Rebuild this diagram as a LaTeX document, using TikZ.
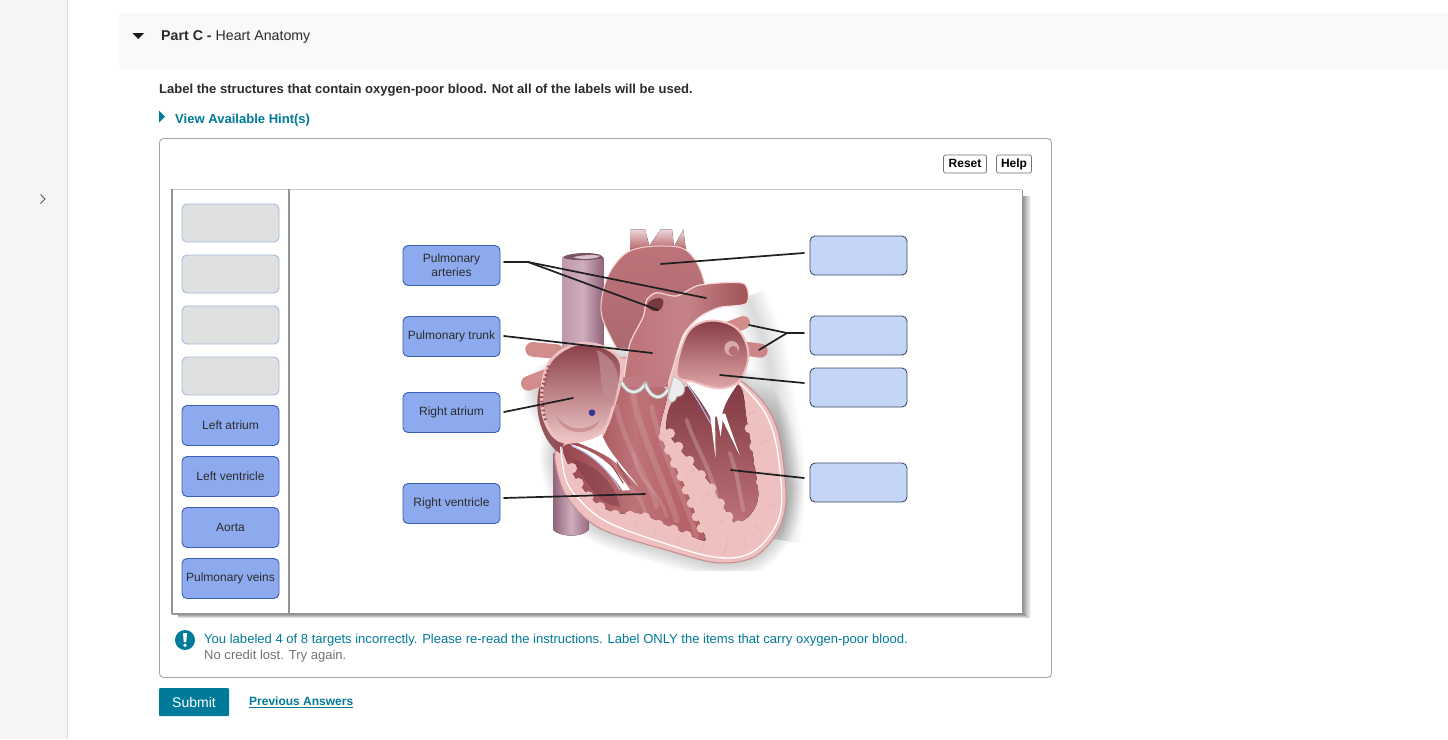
\documentclass[tikz,border=0pt]{standalone}
\usepackage{fontspec}
\setmainfont{Liberation Sans}
\definecolor{teal}{HTML}{007A9A}
\definecolor{txt}{HTML}{2B2B2B}
\definecolor{lab}{HTML}{8EAAEE}
\definecolor{labb}{HTML}{3A5FB5}
\definecolor{tgt}{HTML}{C5D5F5}
\definecolor{tgtb}{HTML}{3F4C6E}
\definecolor{wall}{HTML}{EEC0BF}
\definecolor{flesh}{HTML}{B25A60}
\definecolor{deep}{HTML}{96434C}
\definecolor{mauve}{HTML}{AC7690}
\definecolor{vein}{HTML}{D28C8C}
\definecolor{palette}{HTML}{DFE1E1}
\tikzset{
  x=1pt,y=-1pt,
  txtnode/.style={inner sep=0pt,anchor=west,text=txt,font=\fontsize{#1}{#1}\selectfont},
  lablbox/.style={draw=labb,fill=lab,rounded corners=5pt,line width=.9pt,minimum width=97pt,minimum height=40pt,inner sep=0pt,align=center,text=txt,font=\fontsize{12}{14}\selectfont},
  emptybox/.style={draw=labb!45!white,fill=palette,rounded corners=5pt,line width=.9pt,minimum width=97pt,minimum height=38pt,inner sep=0pt},
  tgtbox/.style={draw=tgtb,fill=tgt,rounded corners=5pt,line width=.9pt,minimum width=97pt,minimum height=39pt,inner sep=0pt},
  btn/.style={draw=black!55,fill=white,rounded corners=2pt,line width=.7pt,inner sep=0pt,text=black,text height=8.8pt,text depth=2.4pt,font=\bfseries\fontsize{12}{12}\selectfont},
  conn/.style={draw=black!88,line width=1.7pt,line cap=round,line join=round},
  heartout/.style={insert path={plot[smooth cycle,tension=.55] coordinates {(420,500)(470,640)(465,720)(500,830)(600,925)(800,990)(950,1028)(1060,1012)(1130,940)(1158,840)(1140,660)(1100,560)(1020,480)(900,420)(600,420)}}},
}
\begin{document}
\begin{tikzpicture}
\useasboundingbox (0,0) rectangle (1448,739);
\fill[white] (0,0) rectangle (1448,739);
% page chrome
\fill[black!4] (0,0) rectangle (67,739);
\draw[black!14,line width=1pt] (67.5,0) -- (67.5,739);
\draw[black!65,line width=1pt] (40.5,194.5) -- (45,199) -- (40.5,203.5);
\fill[black!2.5] (119,13) rectangle (1448,69);
\fill[black!90] (132.5,33) -- (144,33) -- (138.2,39) -- cycle;
\node[txtnode=14.2] (title) at (161,37.5) {\textbf{Part C -} Heart Anatomy};
\node[txtnode=13.05] (instr) at (159,90) {\textbf{Label the structures that contain oxygen-poor blood. Not all of the labels will be used.}};
\fill[teal] (159,110.5) -- (165,116.5) -- (159,122.5) -- cycle;
\node[txtnode=13.05,text=teal] (hint) at (175,120) {\textbf{View Available Hint(s)}};
% panel
\draw[black!35,rounded corners=4pt,line width=.9pt] (159.5,138.5) rectangle (1051.5,677.5);
\node[btn,minimum width=43pt,minimum height=18pt] (reset) at (965,164) {Reset};
\node[btn,minimum width=35pt,minimum height=18pt] (help) at (1014,164) {Help};
% canvas shadows
\fill[left color=black!45,right color=white] (1022,196) rectangle (1031,617);
\fill[top color=black!45,bottom color=white] (178,614) rectangle (1026,618);
\draw[black!22,line width=1pt] (172,189.5) -- (1022,189.5);
\draw[black!42,line width=1.2pt] (172,189) -- (172,614);
\draw[black!42,line width=1.5pt] (172,614) -- (1022.5,614) -- (1022.5,190);
\draw[black!42,line width=1.5pt] (289,189) -- (289,614);
% palette
\node[emptybox] (p1) at (230.5,223) {};
\node[emptybox] (p2) at (230.5,274) {};
\node[emptybox] (p3) at (230.5,325) {};
\node[emptybox] (p4) at (230.5,376) {};
\node[lablbox] (p5) at (230.5,425.5) {Left atrium};
\node[lablbox] (p6) at (230.5,476.5) {Left ventricle};
\node[lablbox] (p7) at (230.5,527.5) {Aorta};
\node[lablbox] (p8) at (230.5,578.5) {Pulmonary veins};
% heart picture
\begin{scope}[shift={(400,220)},x=.33333pt,y=-.33333pt]
 \begin{scope}
  \clip (300,20) rectangle (1212,1050);
  \foreach \w in {6,12,...,96}
    \draw[black,opacity=.012,line width=\w*.33333pt,line join=round,heartout];
  \foreach \w in {10,20,...,120}
    \draw[black,opacity=.012,line width=\w*.33333pt,line join=round] (1040,230) -- (1100,380) -- (1170,800) -- (1140,960);
 \end{scope}
 % great veins
 \fill[left color=mauve!75!white,right color=mauve!85!black,middle color=mauve!60!white] (488,112) rectangle (610,400);
 \fill[mauve!70!black] (488,112) .. controls (500,98) and (600,92) .. (610,112) .. controls (600,122) and (500,124) .. (488,112);
 \fill[mauve!45!white] (520,112) .. controls (540,104) and (590,104) .. (600,108) .. controls (590,118) and (540,120) .. (520,112);
 \fill[left color=mauve!85!black,right color=mauve!90!black,middle color=mauve!60!white] (460,700) -- (566,740) -- (566,930) .. controls (540,955) and (480,950) .. (460,930) -- cycle;
 % aorta
 \fill[top color=flesh!25!white,bottom color=flesh] (690,28) -- (735,28) -- (748,78) -- (782,28) -- (816,28) -- (822,80) -- (850,28) -- (858,95) -- (690,95) -- cycle;
 \draw[wall!70!white,line width=1pt,top color=flesh!85!white,bottom color=deep!80!white] plot[smooth,tension=.6] coordinates {(650,385)(606,290)(610,210)(640,140)(692,92)(780,78)(860,92)(908,170)(908,260)(800,400)} -- cycle;
 % pulmonary veins
 \draw[line width=40*.33333pt,vein,line cap=round] (985,325) -- (1030,308);
 \draw[line width=42*.33333pt,vein!85!flesh,line cap=round] (1030,385) -- (1082,392);
 \draw[line width=44*.33333pt,vein,line cap=round] (470,395) -- (398,388);
 \draw[line width=44*.33333pt,vein,line cap=round] (450,465) -- (385,490);
 % wall
 \path[fill=wall,draw=flesh!70!white,line width=1pt,heartout];
 \fill[deep!90!black,opacity=.85] (420,500) .. controls (395,570) and (430,670) .. (480,700) -- (500,650) -- cycle;
 \draw[white,line width=1.3pt] plot[smooth,tension=.6] coordinates {(482,680)(495,770)(530,830)(620,905)(800,972)(950,1012)(1050,1000)(1120,930)(1145,840)(1128,670)(1090,570)(1020,490)};
 % wall texture
 \foreach \ax/\ay/\bx/\by in {640/905/660/880,700/930/715/905,760/950/770/925,830/975/845/945,900/995/915/960,970/1005/985/960,1040/985/1030/950,1090/940/1065/915,1125/860/1090/845,1130/760/1090/755,1110/660/1075/670,1070/570/1040/590,850/770/885/745,900/840/935/815,960/910/985/880}
   \draw[flesh!45!white,line width=.6pt] (\ax,\ay) -- (\bx,\by);
 % right ventricle cavity
 \fill[left color=deep,right color=flesh,middle color=flesh!85!white] plot[smooth cycle,tension=.4] coordinates {(490,680)(610,650)(650,520)(680,480)(800,510)(780,640)(850,790)(885,880)(915,962)(800,915)(720,880)(650,880)(590,850)(530,780)};
 \fill[deep!80!black,opacity=.45] (520,720) .. controls (560,790) and (600,860) .. (660,860) .. controls (650,800) and (590,730) .. (520,720) -- cycle;
 \foreach \ax/\ay/\bx/\by/\w in {650/560/770/860/5,700/530/830/900/6,755/560/890/950/5,640/720/735/875/4,700/700/800/890/3}
   \draw[flesh!45!white,opacity=.25,line width=\w pt,line cap=round] (\ax,\ay) .. controls +(20,110) and +(-30,-100) .. (\bx,\by);
 \foreach \p in {(515,745),(535,790),(565,830),(600,862),(645,885),(690,888),(735,893),(775,915),(820,930),(860,948)}
   \fill[wall] \p circle[radius=16];
 \foreach \p in {(790,650),(806,690),(824,730),(844,770),(859,810),(874,850),(889,890),(904,925)}
   \fill[wall] \p circle[radius=14];
 % left ventricle cavity
 \fill[top color=deep!85!black,bottom color=flesh!85!white] plot[smooth cycle,tension=.4] coordinates {(810,560)(860,500)(1015,495)(1040,600)(1075,820)(1050,885)(1000,905)(930,790)(850,700)(800,630)};
 \foreach \p in {(1048,625),(1062,680),(1075,730),(1082,785),(1088,840),(1058,900),(1015,915)}
   \fill[wall] \p circle[radius=14];
 \foreach \p in {(810,640),(835,680),(868,722),(903,765),(935,805),(960,850),(985,890)}
   \fill[wall] \p circle[radius=15];
 \foreach \ax/\ay/\bx/\by in {860/600/950/830,990/700/1030/870}
   \draw[flesh!45!white,opacity=.35,line width=4pt,line cap=round] (\ax,\ay) .. controls +(30,90) and +(-20,-90) .. (\bx,\by);
 % chordae
 \fill[white] (510,672) .. controls (580,690) and (640,730) .. (690,810) -- (668,812) .. controls (625,745) and (570,705) .. (510,672) -- cycle;
 \fill[white] (525,665) -- (605,640) .. controls (620,690) and (670,740) .. (715,800) -- (655,735) .. controls (625,705) and (575,685) .. (525,665) -- cycle;
 \fill[white] (855,480) -- (1015,490) .. controls (985,530) and (970,560) .. (965,590) -- (930,590) .. controls (910,550) and (880,515) .. (855,480) -- cycle;
 \fill[white] (930,585) -- (947,715) -- (945,585) -- cycle;
 \fill[white] (950,585) -- (962,650) -- (970,585) -- cycle;
 \fill[white] (960,585) -- (1020,708) -- (975,580) -- cycle;
 \draw[black!30!blue!25!white,line width=1pt] (858,490) .. controls (890,530) and (920,590) .. (932,610);
 \draw[black!30!blue!25!white,line width=1pt] (515,678) .. controls (570,700) and (620,740) .. (660,810);
 \draw[deep,line width=1pt] (635,735) -- (670,790);
 \draw[deep,line width=.8pt] (650,725) -- (690,795);
 % right atrium
 \draw[wall,line width=3pt,top color=deep!90!black,middle color=flesh!65!white,bottom color=wall!85!white] plot[smooth cycle,tension=.6] coordinates {(425,520)(450,425)(530,372)(620,385)(665,440)(640,560)(600,640)(490,665)(438,610)};
 \draw[deep,line width=3pt,dash pattern=on 1.5pt off 3pt] plot[smooth,tension=.6] coordinates {(436,600)(425,520)(450,430)};
 \fill[deep!60!white,opacity=.7] (590,390) .. controls (610,450) and (590,520) .. (640,560) .. controls (665,480) and (660,420) .. (590,390) -- cycle;
 \fill[flesh!80!white,opacity=.6] (470,590) .. controls (510,640) and (570,630) .. (600,600) .. controls (580,650) and (490,650) .. (470,590) -- cycle;
 \fill[blue!50!black!80!white] (576,578) circle[radius=10];
 % pulmonary trunk
 \draw[wall!60!white,line width=1.2pt,left color=flesh!85!white,right color=flesh!90!black,middle color=flesh!75!white] plot[smooth,tension=.45] coordinates {(672,475)(690,370)(730,290)(740,240)(770,218)(830,228)(900,195)(1030,190)(1040,250)(960,262)(900,290)(850,345)(820,440)(805,490)} -- cycle;
 \fill[deep!70!black,opacity=.85] (740,258) .. controls (745,235) and (790,225) .. (790,245) .. controls (790,275) and (760,285) .. (740,258);
 % left atrium
 \draw[wall,line width=2pt,top color=deep!90!black,middle color=flesh!70!white,bottom color=wall!75!flesh] plot[smooth cycle,tension=.6] coordinates {(830,462)(862,340)(930,302)(1010,325)(1045,400)(1020,480)(960,505)(880,485)};
 \fill[flesh!50!white] (995,385) circle[radius=22];
 \fill[flesh!90!white] (1000,392) circle[radius=14];
 % valves
 \fill[flesh!80!white] (668,470) rectangle (805,500);
 \foreach \ax/\ay/\cx/\cy/\bx/\by in {665/488/700/525/737/490,737/495/770/540/803/510}{
   \draw[black!30,line width=4pt,line cap=round] (\ax,\ay) .. controls (\cx-15,\cy) and (\cx+15,\cy) .. (\bx,\by);
   \draw[white!85!gray,line width=2.2pt,line cap=round] (\ax,\ay) .. controls (\cx-15,\cy) and (\cx+15,\cy) .. (\bx,\by);
 }
 \fill[white!85!gray,draw=black!25,line width=.8pt] (820,470) .. controls (860,480) and (865,530) .. (830,530) .. controls (825,550) and (805,555) .. (805,530) -- cycle;
\end{scope}
% targets
\node[lablbox] (a1) at (451.5,265.5) {Pulmonary\\arteries};
\node[lablbox] (a2) at (451.5,336.5) {Pulmonary trunk};
\node[lablbox] (a3) at (451.5,412.5) {Right atrium};
\node[lablbox] (a4) at (451.5,503.5) {Right ventricle};
\node[tgtbox] (b1) at (858.5,255.5) {};
\node[tgtbox] (b2) at (858.5,335.5) {};
\node[tgtbox] (b3) at (858.5,387.5) {};
\node[tgtbox] (b4) at (858.5,482.5) {};
% connector ends
\coordinate (j1) at (528,262);
\coordinate (e1a) at (706,298);
\coordinate (e1b) at (658,310);
\coordinate (e2) at (652,353);
\coordinate (e3) at (573,398);
\coordinate (e4) at (645,494);
\coordinate (f1) at (661,264);
\coordinate (j2) at (787,333);
\coordinate (f2a) at (749,325);
\coordinate (f2b) at (759,350);
\coordinate (f3) at (720,375);
\coordinate (f4) at (731,470);
\coordinate (s1) at (504,262);
\coordinate (s2) at (504,336);
\coordinate (s3) at (504,412);
\coordinate (s4) at (504,498);
\coordinate (t1) at (804,253);
\coordinate (t2) at (804,333);
\coordinate (t3) at (804,383);
\coordinate (t4) at (804,478);
\draw[conn] (s1) -- (j1) -- (e1a);
\draw[conn] (j1) -- (e1b);
\draw[conn] (s2) -- (e2);
\draw[conn] (s3) -- (e3);
\draw[conn] (s4) -- (e4);
\draw[conn] (t1) -- (f1);
\draw[conn] (t2) -- (j2) -- (f2a);
\draw[conn] (j2) -- (f2b);
\draw[conn] (t3) -- (f3);
\draw[conn] (t4) -- (f4);
% feedback
\fill[teal] (185,640) circle[radius=10];
\fill[white] (183,633) -- (187,633) -- (186.3,642) -- (183.7,642) -- cycle;
\fill[white] (185,645.2) circle[radius=1.8];
\node[txtnode=13.05,text=teal] (fb) at (204,640.5) {You labeled 4 of 8 targets incorrectly. Please re-read the instructions. Label ONLY the items that carry oxygen-poor blood.};
\node[txtnode=13.05,text=black!55] (fb2) at (204,656.5) {No credit lost. Try again.};
\node[fill=teal,text=white,rounded corners=1pt,minimum width=70pt,minimum height=28pt,inner sep=0pt,font=\fontsize{14}{14}\selectfont] (submit) at (194,702) {Submit};
\node[txtnode=12,text=teal] (prev) at (249,702) {\textbf{\underline{Previous Answers}}};
\end{tikzpicture}
\end{document}
